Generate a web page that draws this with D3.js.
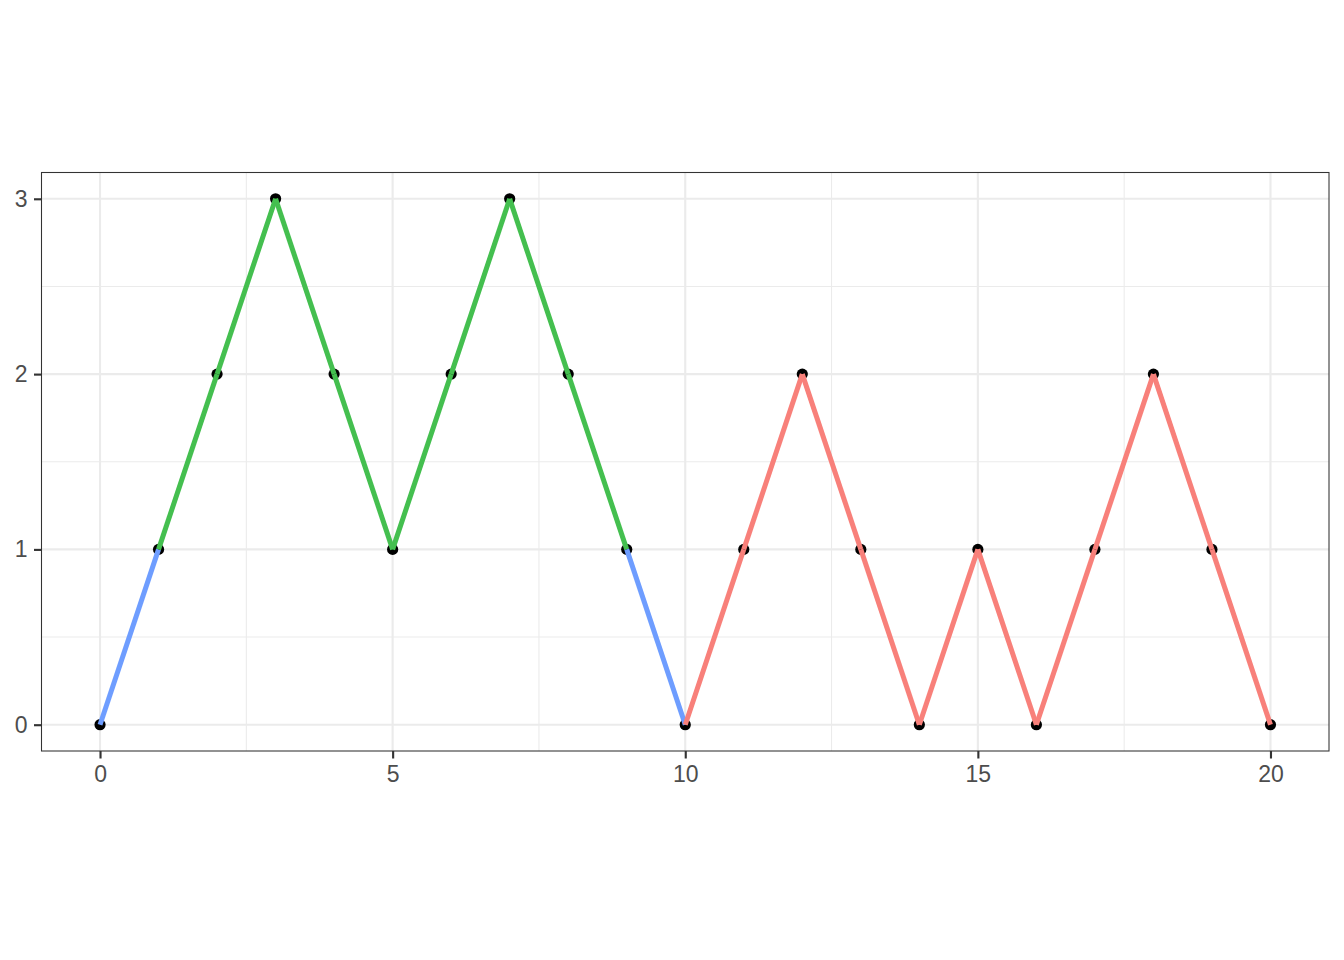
<!DOCTYPE html>
<html>
<head>
<meta charset="utf-8">
<script src="https://cdn.jsdelivr.net/npm/d3@7"></script>
<style>
  body { margin: 0; background: #fff; }
</style>
</head>
<body>
<div id="container"></div>
<script>
const width = 1344,
  height = 960,
  margin = {top: 172.5, bottom: 209, left: 41.5, right: 15};

// data
const xs = d3.range(0, 21);
const ys = [0, 1, 2, 3, 2, 1, 2, 3, 2, 1, 0, 1, 2, 1, 0, 1, 0, 1, 2, 1, 0];
// group of the segment that starts at each x (segment i -> i+1)
const segGroup = ["B", "G", "G", "G", "G", "G", "G", "G", "G", "B",
  "R", "R", "R", "R", "R", "R", "R", "R", "R", "R"];
const xTicks = [0, 5, 10, 15, 20];
const yTicks = [0, 1, 2, 3];
const xMinor = [2.5, 7.5, 12.5, 17.5];
const yMinor = [0.5, 1.5, 2.5];

const points = xs.map((x, i) => ({x: x, y: ys[i]}));

const xScale = d3.scaleLinear()
  .domain([-1, 21])
  .range([margin.left, width - margin.right]);

const yScale = d3.scaleLinear()
  .domain([-0.15, 3.15])
  .range([height - margin.bottom, margin.top]);

const colorScale = d3.scaleOrdinal()
  .domain(["R", "G", "B"])
  .range(["#F8807A", "#44BF4F", "#6E9DFF"]);

const svg = d3.select("#container")
  .append("svg")
  .attr("width", width)
  .attr("height", height);

const x0 = margin.left, x1 = width - margin.right,
  y0 = height - margin.bottom, y1 = margin.top;

// grid
svg.append("g").selectAll("line")
  .data(xMinor).join("line")
  .attr("x1", d => xScale(d)).attr("x2", d => xScale(d))
  .attr("y1", y0).attr("y2", y1)
  .attr("stroke", "#EBEBEB").attr("stroke-width", 1.07);

svg.append("g").selectAll("line")
  .data(yMinor).join("line")
  .attr("y1", d => yScale(d)).attr("y2", d => yScale(d))
  .attr("x1", x0).attr("x2", x1)
  .attr("stroke", "#EBEBEB").attr("stroke-width", 1.07);

svg.append("g").selectAll("line")
  .data(xTicks).join("line")
  .attr("x1", d => xScale(d)).attr("x2", d => xScale(d))
  .attr("y1", y0).attr("y2", y1)
  .attr("stroke", "#EBEBEB").attr("stroke-width", 2.13);

svg.append("g").selectAll("line")
  .data(yTicks).join("line")
  .attr("y1", d => yScale(d)).attr("y2", d => yScale(d))
  .attr("x1", x0).attr("x2", x1)
  .attr("stroke", "#EBEBEB").attr("stroke-width", 2.13);

// points
svg.append("g").selectAll("circle.dot")
  .data(points).join("circle")
  .attr("class", "dot")
  .attr("cx", d => xScale(d.x))
  .attr("cy", d => yScale(d.y))
  .attr("r", 5.6)
  .attr("fill", "black");

// line segments (drawn over points)
const segs = segGroup.map((g, i) => ({a: points[i], b: points[i + 1], g: g}));
svg.append("g").selectAll("line.seg")
  .data(segs).join("line")
  .attr("class", "seg")
  .attr("x1", d => xScale(d.a.x)).attr("y1", d => yScale(d.a.y))
  .attr("x2", d => xScale(d.b.x)).attr("y2", d => yScale(d.b.y))
  .attr("stroke", d => colorScale(d.g))
  .attr("stroke-width", 5)
  .attr("stroke-linecap", "butt");

// panel border
svg.append("rect")
  .attr("x", x0).attr("y", y1)
  .attr("width", x1 - x0).attr("height", y0 - y1)
  .attr("fill", "none")
  .attr("stroke", "#333333")
  .attr("stroke-width", 1.07);

// axes
const xAxis = d3.axisBottom(xScale).tickValues(xTicks).tickSize(7.5).tickPadding(7)
  .tickFormat(d3.format("d"));
const yAxis = d3.axisLeft(yScale).tickValues(yTicks).tickSize(7.5).tickPadding(6.5)
  .tickFormat(d3.format("d"));

const xAxisGroup = svg.append("g")
  .attr("transform", `translate(0,${y0})`)
  .call(xAxis);
const yAxisGroup = svg.append("g")
  .attr("transform", `translate(${x0},0)`)
  .call(yAxis);

[xAxisGroup, yAxisGroup].forEach(g => {
  g.attr("font-size", 23).attr("font-family", "Liberation Sans, Arial, sans-serif");
  g.select(".domain").remove();
  g.selectAll(".tick line").attr("stroke", "#333333").attr("stroke-width", 2.13);
  g.selectAll(".tick text").attr("fill", "#4D4D4D");
});
</script>
</body>
</html>
